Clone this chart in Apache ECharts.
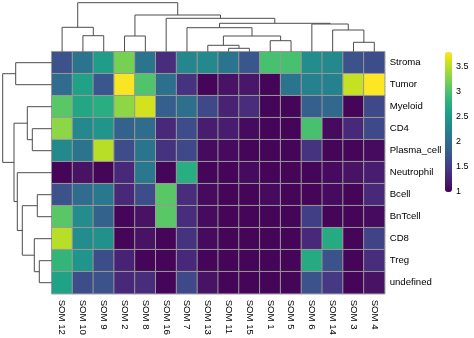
<!DOCTYPE html>
<html>
<head>
<meta charset="utf-8">
<script src="https://cdn.jsdelivr.net/npm/echarts@6/dist/echarts.min.js"></script>
<style>
html,body{margin:0;padding:0;background:#fff;}
#chart{width:474px;height:338px;}
</style>
</head>
<body>
<div id="chart"></div>
<script>
// ---- data ----
const cols = ['SOM 12','SOM 10','SOM 9','SOM 2','SOM 8','SOM 16','SOM 7','SOM 13','SOM 11','SOM 15','SOM 1','SOM 5','SOM 6','SOM 14','SOM 3','SOM 4'];
const rows = ['Stroma','Tumor','Myeloid','CD4','Plasma_cell','Neutrophil','Bcell','BnTcell','CD8','Treg','undefined'];

const Stroma      = [1.69,2.07,2.55,3.22,2.07,1.35,2.27,2.31,2.07,1.74,2.98,2.98,2.36,2.31,1.69,1.64];
const Tumor       = [1.98,2.60,1.74,3.78,3.03,2.03,1.40,1.02,1.12,1.16,1.02,2.07,2.22,2.22,3.56,3.80];
const Myeloid     = [3.08,2.65,2.75,3.32,3.61,1.83,2.03,1.59,1.26,1.35,1.02,1.02,1.83,1.93,1.02,1.59];
const CD4         = [3.32,2.31,2.46,1.88,1.98,1.31,1.64,1.21,1.21,1.07,1.02,1.02,2.98,1.07,1.31,1.59];
const Plasma_cell = [2.31,2.07,3.51,1.64,2.07,1.40,1.59,1.07,1.07,1.02,1.02,1.02,1.40,1.02,1.02,1.07];
const Neutrophil  = [1.02,1.12,1.02,1.31,2.12,1.02,2.75,1.02,1.02,1.07,1.02,1.02,1.02,1.07,1.12,1.21];
const Bcell       = [1.69,1.98,2.12,1.31,1.64,3.08,1.35,1.07,1.02,1.02,1.07,1.02,1.02,1.07,1.02,1.31];
const BnTcell     = [3.08,2.36,1.88,1.02,1.12,3.08,1.35,1.07,1.02,1.02,1.02,1.02,1.50,1.02,1.02,1.07];
const CD8         = [3.51,2.36,2.41,1.02,1.12,1.02,1.40,1.07,1.02,1.02,1.02,1.02,1.31,2.70,1.02,1.55];
const Treg        = [2.84,2.46,1.64,1.26,1.02,1.02,1.31,1.02,1.02,1.02,1.02,1.02,2.70,1.69,1.02,1.35];
const undefinedRow= [2.60,1.64,1.69,1.31,1.35,1.02,1.59,1.12,1.02,1.02,1.02,1.02,1.69,1.45,1.02,1.12];

const matrix = [Stroma,Tumor,Myeloid,CD4,Plasma_cell,Neutrophil,Bcell,BnTcell,CD8,Treg,undefinedRow];

const colorTicks = [1,1.5,2,2.5,3,3.5];
const valueMin = 0.99, valueMax = 3.8;

// dendrograms: [mergeHeight, left, right]
const colTree = [49,
  [24.4,'SOM 12',[16,'SOM 10','SOM 9']],
  [36.7,[15.7,'SOM 2','SOM 8'],
    [33.4,'SOM 16',
      [28.4,
        [24,'SOM 7',[15.7,[6.4,'SOM 13',[3.4,'SOM 11','SOM 15']],[11,'SOM 1','SOM 5']]],
        [27.7,'SOM 6',[21.7,'SOM 14',[9.4,'SOM 3','SOM 4']]]
      ]
    ]
  ]
];
const rowTree = [49,
  [36,'Stroma','Tumor'],
  [37.7,
    [24.4,'Myeloid',[19.4,'CD4','Plasma_cell']],
    [34.4,'Neutrophil',[29.4,[14.4,'Bcell','BnTcell'],[17.4,'CD8',[12.4,'Treg','undefined']]]]
  ]
];
const dendroMax = 51.7;

// ---- build ----
function layout(node, leaves, segs){
  if (typeof node === 'string') return {p: leaves.indexOf(node), h: 0};
  const a = layout(node[1], leaves, segs), b = layout(node[2], leaves, segs);
  segs.push([a.p, a.h, b.p, b.h, node[0]]);
  return {p: (a.p + b.p) / 2, h: node[0]};
}
const colSegs = []; layout(colTree, cols, colSegs);
const rowSegs = []; layout(rowTree, rows, rowSegs);

const heatData = [];
matrix.forEach((r, j) => r.forEach((v, i) => heatData.push([i, j, v])));

const viridis = ['#440154','#481467','#482677','#453781','#3f4788','#39568c','#33638d','#2d708e','#287d8e','#238a8d','#1f968b','#20a386','#29af7f','#3cbb75','#55c667','#73d055','#95d840','#b8de29','#dce319','#fde725'];

const lineStyle = {stroke: '#4d4d4d', lineWidth: 1, fill: null};
const FONT = 'Liberation Sans, Arial, sans-serif';

const chart = echarts.init(document.getElementById('chart'), null, {renderer: 'canvas'});
chart.setOption({
  animation: false,
  backgroundColor: '#fff',
  grid: [
    {left: 51.7, top: 51.7, width: 333, height: 242},
    {left: 51.7, top: 0, width: 333, height: 51.7},
    {left: 0, top: 51.7, width: 51.7, height: 242},
    {left: 445, top: 52, width: 7, height: 140}
  ],
  xAxis: [
    {gridIndex: 0, type: 'category', data: cols, position: 'bottom',
     axisLine: {show: false}, axisTick: {show: false}, splitLine: {show: false},
     axisLabel: {rotate: -90, margin: 6, fontSize: 9.6, color: '#000', fontFamily: FONT, interval: 0}},
    {gridIndex: 1, type: 'value', min: -0.5, max: cols.length - 0.5, show: false},
    {gridIndex: 2, type: 'value', min: 0, max: dendroMax, inverse: true, show: false},
    {gridIndex: 3, type: 'value', show: false}
  ],
  yAxis: [
    {gridIndex: 0, type: 'category', data: rows, inverse: true, position: 'right',
     axisLine: {show: false}, axisTick: {show: false}, splitLine: {show: false},
     axisLabel: {margin: 5, fontSize: 9.6, color: '#000', fontFamily: FONT, interval: 0}},
    {gridIndex: 1, type: 'value', min: 0, max: dendroMax, show: false},
    {gridIndex: 2, type: 'value', min: -0.5, max: rows.length - 0.5, inverse: true, show: false},
    {gridIndex: 3, type: 'value', min: valueMin, max: valueMax, position: 'right',
     axisLine: {show: false}, axisTick: {show: false}, splitLine: {show: false},
     axisLabel: {customValues: colorTicks, margin: 4, fontSize: 9, color: '#000', fontFamily: FONT}}
  ],
  visualMap: {
    type: 'continuous', seriesIndex: 0, min: valueMin, max: valueMax,
    calculable: false, realtime: false, hoverLink: false,
    itemWidth: 7, itemHeight: 140, left: 445, top: 52, padding: 0,
    orient: 'vertical', text: null, showLabel: false,
    inRange: {color: viridis}
  },
  series: [
    {type: 'heatmap', xAxisIndex: 0, yAxisIndex: 0, data: heatData,
     itemStyle: {borderColor: '#999999', borderWidth: 1}, emphasis: {disabled: true}},
    {type: 'custom', xAxisIndex: 1, yAxisIndex: 1, data: colSegs, silent: true,
     renderItem: function(params, api){
       const pl = api.value(0), hl = api.value(1), pr = api.value(2), hr = api.value(3), h = api.value(4);
       return {type: 'polyline', shape: {points: [api.coord([pl, hl]), api.coord([pl, h]), api.coord([pr, h]), api.coord([pr, hr])]}, style: lineStyle};
     }},
    {type: 'custom', xAxisIndex: 2, yAxisIndex: 2, data: rowSegs, silent: true,
     renderItem: function(params, api){
       const pl = api.value(0), hl = api.value(1), pr = api.value(2), hr = api.value(3), h = api.value(4);
       return {type: 'polyline', shape: {points: [api.coord([hl, pl]), api.coord([h, pl]), api.coord([h, pr]), api.coord([hr, pr])]}, style: lineStyle};
     }}
  ]
});
</script>
</body>
</html>
